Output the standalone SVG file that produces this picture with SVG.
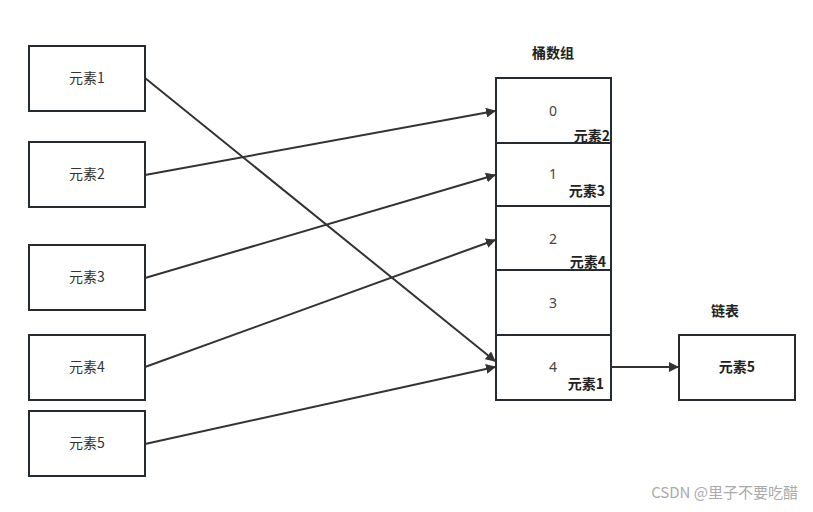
<svg xmlns="http://www.w3.org/2000/svg" width="813" height="512" viewBox="0 0 813 512">
<style>
.b{fill:#fff;stroke:#262b30;stroke-width:2}
.t{font-family:"Microsoft YaHei","Noto Sans CJK SC",sans-serif;font-size:14px;fill:#333;text-anchor:middle}
.n{font-family:"Noto Sans","Noto Sans CJK SC",sans-serif;font-size:14px;fill:#444;text-anchor:middle}
.k{font-family:"Noto Sans CJK SC",sans-serif;font-size:14px;font-weight:bold;fill:#222}
.c{stroke:#333;stroke-width:2;fill:none;marker-end:url(#a)}
</style>
<defs><marker id="a" markerWidth="10" markerHeight="10" refX="9" refY="5" orient="auto" markerUnits="userSpaceOnUse"><path d="M0,0L10,5L0,10z" fill="#333"/></marker></defs>
<rect width="813" height="512" fill="#fff"/>
<g id="e1"><rect class="b" x="29" y="46" width="116" height="65"/><text class="t" x="87" y="83">元素1</text></g>
<g id="e2"><rect class="b" x="29" y="142" width="116" height="65"/><text class="t" x="87" y="179">元素2</text></g>
<g id="e3"><rect class="b" x="29" y="245" width="116" height="65"/><text class="t" x="87" y="282">元素3</text></g>
<g id="e4"><rect class="b" x="29" y="335" width="116" height="65"/><text class="t" x="87" y="372">元素4</text></g>
<g id="e5"><rect class="b" x="29" y="411" width="116" height="65"/><text class="t" x="87" y="448">元素5</text></g>
<g id="buckets">
<text class="k" x="553" y="58" text-anchor="middle">桶数组</text>
<rect class="b" x="496" y="78" width="115" height="65"/><text class="n" x="553" y="116">0</text><text class="k" x="610" y="141" text-anchor="end">元素2</text>
<rect class="b" x="496" y="143" width="115" height="63"/><text class="n" x="553" y="179">1</text><text class="k" x="605" y="196" text-anchor="end">元素3</text>
<rect class="b" x="496" y="206" width="115" height="64"/><text class="n" x="553" y="244">2</text><text class="k" x="606" y="267" text-anchor="end">元素4</text>
<rect class="b" x="496" y="270" width="115" height="65"/><text class="n" x="553" y="308">3</text>
<rect class="b" x="496" y="335" width="115" height="65"/><text class="n" x="553" y="372">4</text><text class="k" x="604" y="389" text-anchor="end">元素1</text>
</g>
<g id="list"><text class="k" x="725" y="316" text-anchor="middle">链表</text><rect class="b" x="679" y="335" width="116" height="65"/><text class="k" x="737" y="372" text-anchor="middle">元素5</text></g>
<g id="connectors">
<line class="c" x1="145" y1="78" x2="495" y2="361"/>
<line class="c" x1="145" y1="175" x2="495" y2="111"/>
<line class="c" x1="145" y1="278" x2="495" y2="175"/>
<line class="c" x1="145" y1="367" x2="495" y2="240"/>
<line class="c" x1="145" y1="444" x2="495" y2="367"/>
<line class="c" x1="611" y1="367" x2="678" y2="367"/>
</g>
<text x="798" y="498" text-anchor="end" font-family="Noto Sans CJK SC,sans-serif" font-size="15" fill="#aaa">CSDN @里子不要吃醋</text>
</svg>
